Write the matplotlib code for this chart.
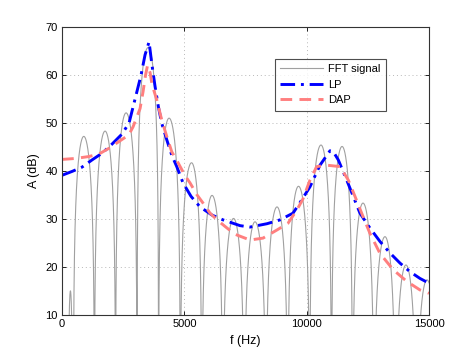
import numpy as np
import matplotlib
matplotlib.use("Agg")
import matplotlib.pyplot as plt

plt.rcParams['font.family'] = ['Liberation Sans', 'DejaVu Sans']

# ---- data ----
# FFT signal: harmonic lobes (centre frequency, peak level)
lobe_freq = [340, 887, 1757, 2616, 3515, 4373, 5293, 6130, 7009, 7888,
             8787, 9666, 10585, 11446, 12302, 13201, 14059, 14918]
lobe_db = [15.0, 47.2, 48.3, 52.1, 65.7, 51.0, 41.7, 34.9, 30.1, 29.4,
           32.5, 36.8, 45.4, 45.1, 33.3, 26.3, 20.4, 17.3]
# null frequencies bounding the lobes
null_freq = [245, 437, 460, 1322, 2186, 3065, 3944, 4833, 5711, 6570, 7448,
             8337, 9226, 10125, 11015, 11874, 12751, 13630, 14488, 15360]

lp_freq = [0, 409, 817, 1226, 1635, 2043, 2452, 2738, 2984, 3229, 3392, 3556,
           3666, 3801, 3936, 4075, 4279, 4483, 4688, 4945, 5272, 5640, 6130,
           6580, 7275, 7684, 8378, 8910, 9441, 9727, 10136, 10544, 10953,
           11090, 11292, 11636, 11905, 12178, 12586, 12997, 13405, 13814,
           14223, 14631, 15000]
lp_db = [39.1, 39.9, 40.8, 42.3, 43.7, 45.6, 47.7, 50.0, 55.0, 60.0, 64.2, 66.9,
         62.4, 57.6, 53.4, 49.9, 46.5, 43.3, 40.9, 37.5, 34.7, 32.5, 30.8,
         29.8, 28.6, 28.3, 29.0, 29.8, 31.2, 33.4, 36.7, 41.2, 44.2,
         44.0, 42.3, 38.1, 34.7, 31.2, 28.1, 25.3, 22.9, 20.8,
         19.0, 17.6, 16.6]

dap_freq = [0, 544, 1091, 1500, 1909, 2317, 2726, 2902, 3188, 3310, 3413, 3494,
            3597, 3678, 3870, 4075, 4279, 4483, 4753, 5027, 5231, 5517, 5763,
            6049, 6335, 6743, 7071, 7684, 8215, 8787, 9237, 9604, 9850, 10136,
            10410, 10818, 11361, 11701, 11975, 12248, 12586, 12997, 13540,
            14088, 14631, 15000]
dap_db = [42.4, 42.6, 43.0, 43.5, 44.7, 46.1, 47.5, 49.2, 53.0, 56.5, 60.0, 62.0,
          60.5, 58.0, 54.8, 50.6, 47.2, 44.0, 41.6, 39.0, 37.5, 35.0, 33.3,
          31.2, 29.8, 28.1, 26.8, 25.6, 26.0, 27.7, 29.1, 31.9, 34.2, 38.1,
          40.9, 41.2, 40.9, 38.1, 34.7, 31.2, 27.0, 22.8, 19.4,
          17.0, 15.2, 14.5]

# ---- build FFT curve from the lobes ----
edges = [(null_freq[0], null_freq[1])] + [(null_freq[i], null_freq[i + 1])
                                          for i in range(2, len(null_freq) - 1)]
f_all, a_all = [], []
for (lo, hi), c, p in zip(edges, lobe_freq, lobe_db):
    f = np.linspace(lo, hi, 400)
    half = np.where(f < c, c - lo, hi - c)
    u = np.clip(np.abs(f - c) / half, 0, 1)
    amp = np.cos(np.pi / 2 * u)
    db = p + 1.6 * 20 * np.log10(np.maximum(amp, 1e-6))
    f_all.append(f)
    a_all.append(np.maximum(db, 0))
fft_f = np.concatenate(f_all)
fft_db = np.concatenate(a_all)

fig = plt.figure(figsize=(4.74, 3.55), dpi=100)
ax = fig.add_axes([0.131, 0.113, 0.774, 0.811])

ax.plot(fft_f, fft_db, color='#a0a0a0', lw=0.8, label='FFT signal')
ax.plot(lp_freq, lp_db, color='#0000ff', lw=2.1, ls=(0, (5, 2, 1, 2)),
        label='LP', solid_joinstyle='round')
ax.plot(dap_freq, dap_db, color='#ff7f7f', lw=2.1, ls=(0, (4, 2.5)),
        label='DAP', solid_joinstyle='round')

ax.set_xlim(0, 15000)
ax.set_ylim(10, 70)
ax.set_xticks([0, 5000, 10000, 15000])
ax.set_yticks(range(10, 71, 10))
ax.tick_params(direction='in', top=True, right=True, labelsize=8, length=3,
               width=0.6, pad=3)
ax.grid(True, color='#b8b8b8', ls=(0, (1, 3)), lw=0.7)
for s in ax.spines.values():
    s.set_linewidth(0.8)
    s.set_color('#333333')
ax.set_xlabel('f (Hz)', fontsize=9, labelpad=4)
ax.set_ylabel('A (dB)', fontsize=9, labelpad=4)

leg = ax.legend(loc='upper left', bbox_to_anchor=(0.58, 0.89), fontsize=8,
                frameon=True, fancybox=False, edgecolor='#222222',
                handlelength=3.8, borderpad=0.5, labelspacing=0.5,
                handletextpad=0.5, borderaxespad=0)
leg.get_frame().set_linewidth(0.8)

fig.savefig('out.png', dpi=100)
